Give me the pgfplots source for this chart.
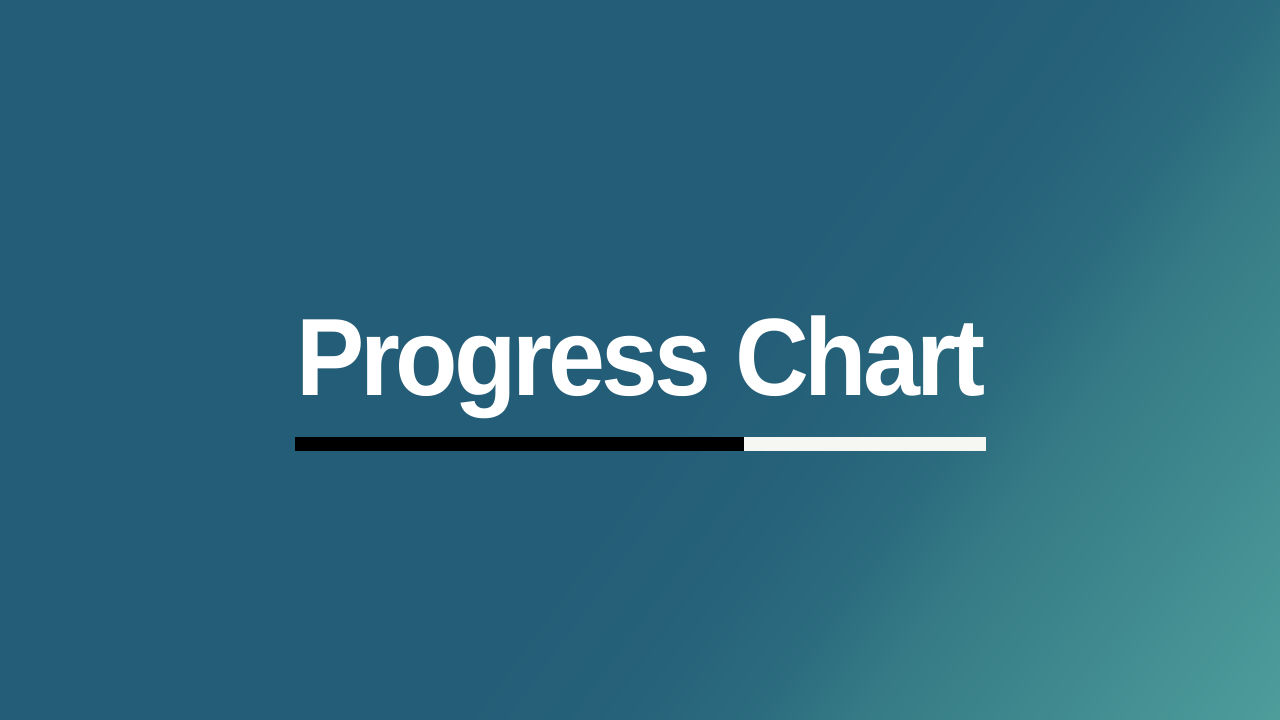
\documentclass[border=0pt]{standalone}
\usepackage{pgfplots}
\pgfplotsset{compat=1.18}
\usepackage{fontspec}
\setmainfont{Liberation Sans}
\definecolor{bgdark}{HTML}{245D77}
\definecolor{bgZ}{HTML}{26627A}
\definecolor{bgA}{HTML}{2C6C7F}
\definecolor{bgB}{HTML}{357A85}
\definecolor{bglight}{HTML}{4E9E9C}
\definecolor{barwhite}{HTML}{F6F6F3}
\pgfdeclarehorizontalshading{bg}{100bp}{color(0bp)=(bgdark); color(52bp)=(bgdark); color(56bp)=(bgZ); color(59.5bp)=(bgA); color(62bp)=(bgB); color(72.8bp)=(bglight); color(100bp)=(bglight)}
\begin{document}
\begin{tikzpicture}
\useasboundingbox (0,0) rectangle (640bp,360bp);
\begin{scope}
\clip (0,0) rectangle (640bp,360bp);
\shade[shading=bg, shading angle=-36] (-80bp,-220bp) rectangle (720bp,580bp);
\end{scope}
\begin{axis}[at={(147.5bp,138bp)}, anchor=west, scale only axis,
  width=345.5bp, height=7bp, xmin=0, xmax=100, ymin=-0.5, ymax=0.5,
  hide axis, xbar stacked, bar width=7bp, clip=false]
\addplot[xbar, fill=black, draw=none] coordinates {(65,0)};
\addplot[xbar, fill=barwhite, draw=none] coordinates {(35,0)};
\end{axis}
\node[anchor=base, text=white, inner sep=0pt,
  font=\fontsize{55bp}{60bp}\selectfont\bfseries\addfontfeatures{LetterSpace=-4}]
  at (320.5bp,162bp) {\scalebox{0.93}[1]{Progress Chart}};
\end{tikzpicture}
\end{document}
